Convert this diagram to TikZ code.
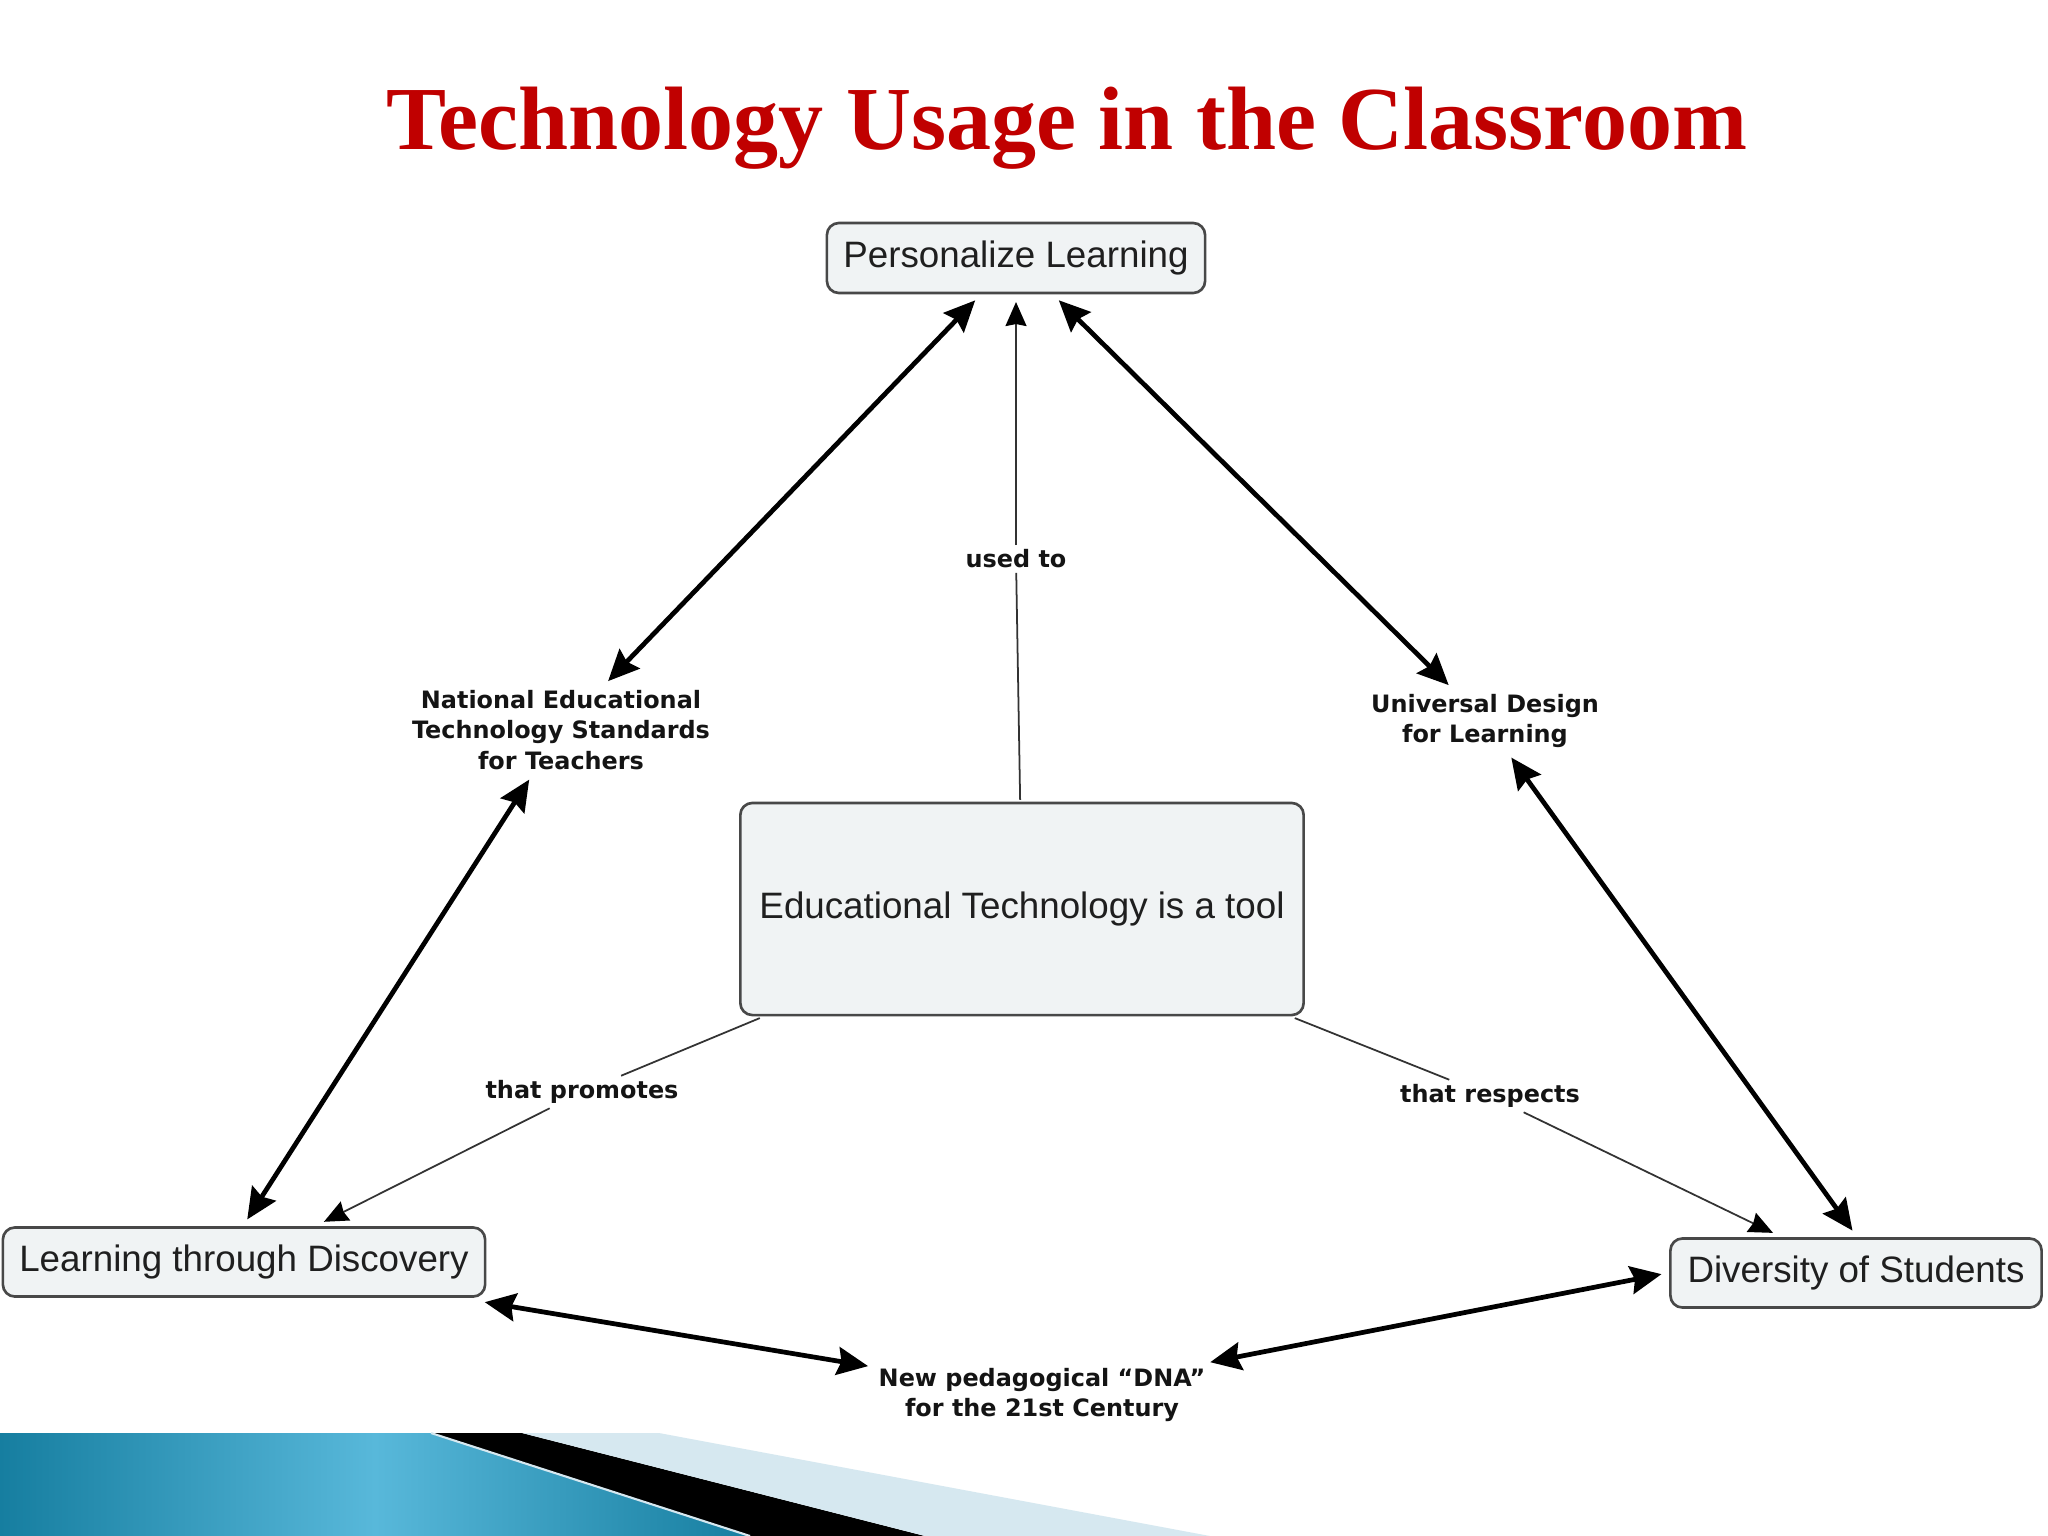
\documentclass[tikz,border=0pt]{standalone}
\usepackage{fontspec}
\setmainfont{Liberation Sans}
\newfontfamily\titlefont{Liberation Serif}
\newfontfamily\linkfont{DejaVu Sans}
\usetikzlibrary{arrows.meta}
\definecolor{titlered}{RGB}{192,0,0}
\definecolor{boxfill}{RGB}{240,243,244}
\definecolor{boxline}{RGB}{72,72,72}
\definecolor{banddark}{RGB}{22,126,160}
\definecolor{bandlight}{RGB}{88,184,218}
\definecolor{bandpale}{RGB}{214,232,240}
\tikzset{
  concept/.style={draw=boxline, line width=0.75pt, fill=boxfill, rounded corners=0.12cm,
    inner sep=0pt, outer sep=0.03cm, text=black!88, font=\fontsize{10.45}{12}\selectfont},
  linking/.style={inner sep=0.04cm, align=center, text=black!92,
    font=\linkfont\bfseries\fontsize{6.8}{8.7}\selectfont},
  thickarrow/.style={line width=1.35pt,
    {Stealth[length=0.31cm,width=0.28cm,inset=0.04cm]}-{Stealth[length=0.31cm,width=0.28cm,inset=0.04cm]},
    shorten <=0.06cm, shorten >=0.06cm},
  thinline/.style={line width=0.5pt, black!80},
  thinarrow/.style={thinline, -{Stealth[length=0.24cm,width=0.21cm,inset=0.02cm,black]}, shorten >=0.06cm}
}
\begin{document}
\begin{tikzpicture}[x=0.01cm, y=-0.01cm]
      \useasboundingbox[fill=white] (0,0) rectangle (2048,1536);
      % slide band
      \shade[left color=banddark, right color=banddark, middle color=bandlight]
        (0,1433) -- (431,1433) -- (750,1536) -- (0,1536) -- cycle;
      \fill[black] (431,1433) -- (522,1433) -- (925,1536) -- (750,1536) -- cycle;
      \fill[bandpale] (522,1433) -- (659,1433) -- (1210,1536) -- (925,1536) -- cycle;
      \draw[bandpale, line width=0.6pt] (431,1433) -- (750,1536);
      \draw
        (1067,149) node[anchor=base, text=titlered, font=\titlefont\bfseries\fontsize{25.6}{30}\selectfont] (title){Technology Usage in the Classroom}
        (1016,258) node[concept, minimum width=3.78cm, minimum height=0.70cm] (pl){Personalize Learning}
        (1022,909) node[concept, minimum width=5.63cm, minimum height=2.12cm] (ed){Educational Technology is a tool}
        (244,1262) node[concept, minimum width=4.82cm, minimum height=0.69cm] (ld){Learning through Discovery}
        (1856,1273) node[concept, minimum width=3.71cm, minimum height=0.69cm] (ds){Diversity of Students}
        (561,730) node[linking] (nets){National Educational\\Technology Standards\\for Teachers}
        (1485,721) node[linking] (udl){Universal Design\\for Learning}
        (1016,559) node[linking] (used){used to}
        (582,1092) node[linking] (prom){that promotes}
        (1490,1096) node[linking] (resp){that respects}
        (1042,1395) node[linking] (dna){New pedagogical “DNA”\\for the 21st Century};
      \begin{scope}[thickarrow]
        \draw (pl) to (nets);
        \draw (pl) to (udl);
        \draw (nets) to (ld.north);
        \draw (udl) to (ds.north);
        \draw[shorten <=0.16cm] (ld) to (dna);
        \draw (dna) to (ds.west);
      \end{scope}
      \begin{scope}[thinline]
        \draw (ed) to (used);
        \draw (ed) to (prom);
        \draw (ed) to (resp);
      \end{scope}
      \begin{scope}[thinarrow]
        \draw (used) to (pl);
        \draw (prom) to (ld);
        \draw (resp) to (ds);
      \end{scope}
    \end{tikzpicture}
\end{document}
